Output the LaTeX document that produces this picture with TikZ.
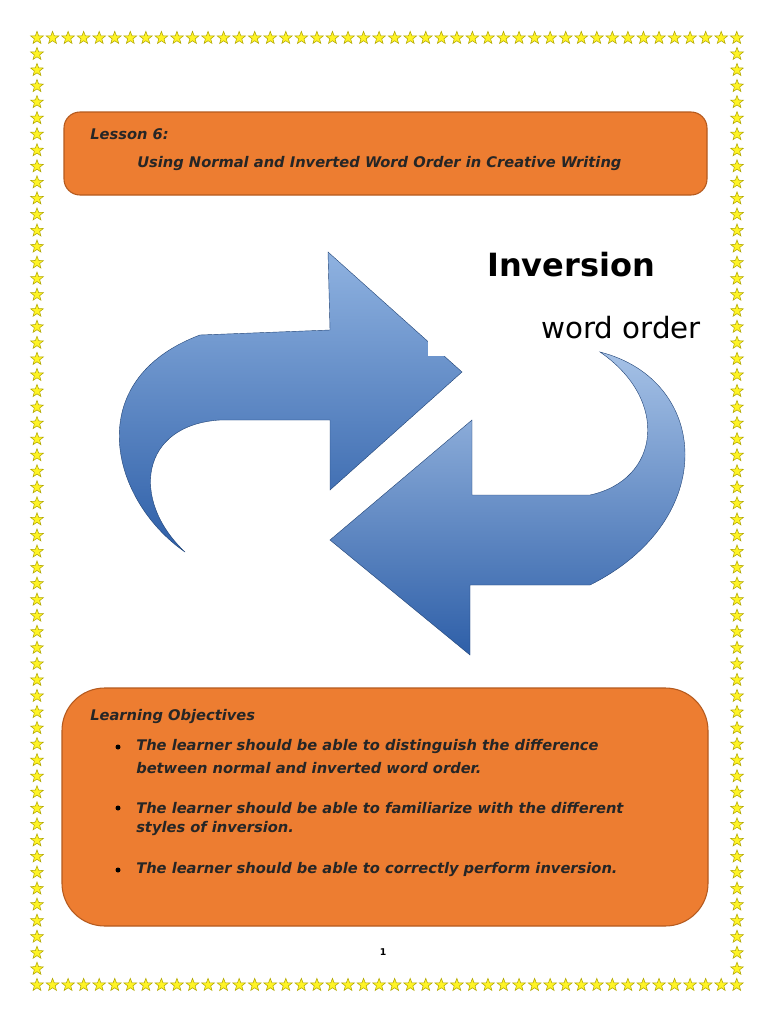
\documentclass[tikz,border=0pt]{standalone}
\usepackage{fontspec}
\setmainfont{DejaVu Sans}
\usetikzlibrary{shapes.geometric}
\definecolor{org}{HTML}{ED7D31}
\definecolor{orgdark}{HTML}{B55A1E}
\definecolor{bluea}{HTML}{2E5FA8}
\definecolor{blueb}{HTML}{8FB2E0}
\tikzset{
  starmark/.style={star, star points=5, star point ratio=2.4, minimum size=10pt, inner sep=0pt, fill=yellow!85!white, draw=olive!70!yellow, line width=0.4pt},
  obox/.style={fill=org, draw=orgdark, line width=0.8pt},
  btxt/.style={font=\bfseries\itshape\fontsize{11}{14}\selectfont, anchor=west, inner sep=0pt, text=black!85},
  arrowshape/.style={top color=blueb, bottom color=bluea, draw=bluea!70!black, line width=0.3pt}
}
\begin{document}
\begin{tikzpicture}[x=0.75pt,y=-0.75pt]
\useasboundingbox (0,0) rectangle (768,1024);
\fill[white] (0,0) rectangle (768,1024);
% star border
\foreach \i in {0,...,45} {
  \node[starmark] (st\i) at ({37+\i*15.55},38) {};
  \node[starmark] (sb\i) at ({37+\i*15.55},985) {};
}
\foreach \j in {1,...,58} {
  \node[starmark] (sl\j) at (37,{38+\j*16.05}) {};
  \node[starmark] (sr\j) at (737,{38+\j*16.05}) {};
}
% header box
\draw[obox, rounded corners=12pt] (64,112) rectangle (707,195);
\node[btxt] (lesson) at (90,134) {Lesson 6:};
\node[btxt] (title) at (137,164) {Using Normal and Inverted Word Order in Creative Writing};
% upper arrow
\path[arrowshape] (185,552) .. controls (110,500) and (80,380) .. (200,335)
  -- (330,330) -- (328,252) -- (462,372) -- (330,490) -- (330,420)
  -- (220,420) .. controls (140,425) and (130,500) .. (185,552) -- cycle;
% lower arrow
\path[arrowshape, top color=blueb!80!white] (600,352) .. controls (710,380) and (720,520) .. (590,585)
  -- (470,585) -- (470,655) -- (330,540) -- (472,420) -- (472,495)
  -- (590,495) .. controls (660,480) and (670,400) .. (600,352) -- cycle;
% texts
\node[font=\bfseries\fontsize{24}{26}\selectfont, inner sep=0pt] (inv) at (571,265) {Inversion};
\node[font=\fontsize{22}{24}\selectfont, inner sep=0pt] (wo) at (621,328) {word order};
\fill[white] (428,312) rectangle (535,356);
% objectives box
\draw[obox, rounded corners=32pt] (62,688) rectangle (708,926);
\node[btxt] (lo) at (90,717) {Learning Objectives};
\foreach \y/\t in {747/{The learner should be able to distinguish the difference}, 768/{between normal and inverted word order.}, 808/{The learner should be able to familiarize with the different}, 829/{styles of inversion.}, 870/{The learner should be able to correctly perform inversion.}} {
  \node[btxt] at (136,\y) {\t};
}
\foreach \y in {747,808,870} \fill[black] (118,\y) circle (2.5);
\node[font=\bfseries\fontsize{7}{8}\selectfont] (pg) at (383,952) {1};
\end{tikzpicture}
\end{document}
